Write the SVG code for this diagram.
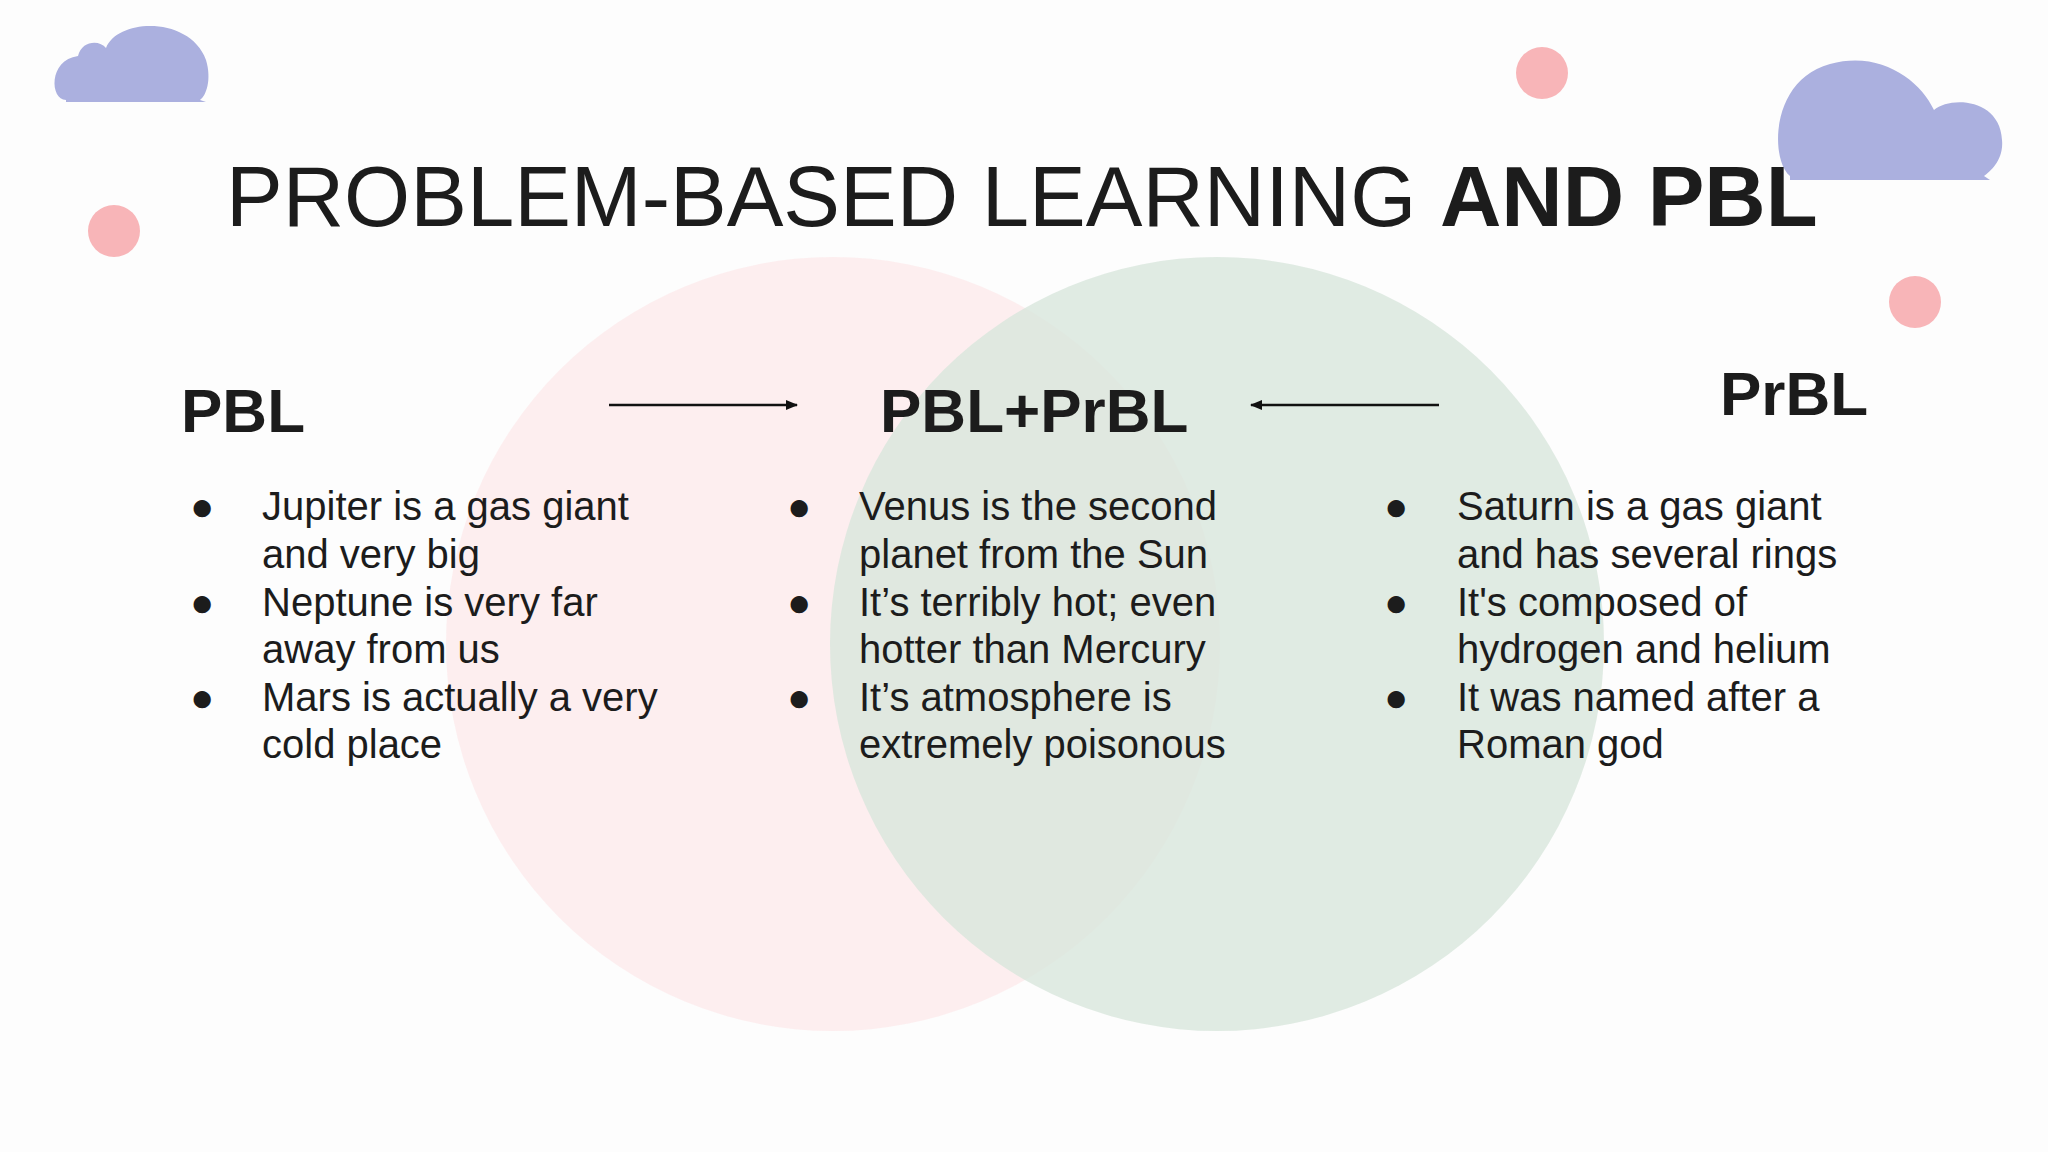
<svg xmlns="http://www.w3.org/2000/svg" width="2048" height="1152" viewBox="0 0 2048 1152">
<style>
.t{font-family:"Liberation Sans",Arial,sans-serif;fill:#1c1c1c}
.b{font-size:40px}
.h{font-size:62px;font-weight:bold}
.cl{fill:#abb0df}
.dot{fill:#f8b5b8}
</style>
<defs><marker id="ah" markerWidth="12" markerHeight="10" refX="11" refY="5" orient="auto" markerUnits="userSpaceOnUse"><path d="M0,0 L12,5 L0,10 Z" fill="#111"/></marker></defs>
<rect width="2048" height="1152" fill="#fdfdfd"/>
<g id="decor">
<path class="cl" d="M66,100 C50,100 48,60 78,56 C82,40 100,40 106,48 C118,18 190,16 206,60 C212,80 206,96 200,100 L206,102 L66,102 Z"/>
<path class="cl" d="M1790,176 C1770,160 1770,80 1830,64 C1880,50 1920,80 1934,110 C1950,96 2000,98 2002,140 C2004,160 1990,172 1984,176 L1990,180 L1790,180 Z"/>
<circle class="dot" cx="1542" cy="73" r="26"/>
<circle class="dot" cx="114" cy="231" r="26"/>
<circle class="dot" cx="1915" cy="302" r="26"/>
</g>
<g id="circles">
<circle cx="833" cy="644" r="387" fill="#fdeced" opacity="0.9"/>
<circle cx="1217" cy="644" r="387" fill="#d8e6dc" opacity="0.8"/>
</g>
<text class="t" x="226" y="226" font-size="85">PROBLEM-BASED LEARNING <tspan font-weight="bold">AND PBL</tspan></text>
<g id="connectors" stroke="#111" stroke-width="2.5">
<line x1="609" y1="405" x2="797" y2="405" marker-end="url(#ah)"/>
<line x1="1439" y1="405" x2="1251" y2="405" marker-end="url(#ah)"/>
</g>
<g id="pbl">
<text class="t h" x="181" y="432">PBL</text>
<g class="t b">
<text x="190" y="520">●</text><text x="262" y="520">Jupiter is a gas giant</text>
<text x="262" y="568">and very big</text>
<text x="190" y="616">●</text><text x="262" y="616">Neptune is very far</text>
<text x="262" y="663">away from us</text>
<text x="190" y="711">●</text><text x="262" y="711">Mars is actually a very</text>
<text x="262" y="758">cold place</text>
</g>
</g>
<g id="both">
<text class="t h" x="880" y="432">PBL+PrBL</text>
<g class="t b">
<text x="787" y="520">●</text><text x="859" y="520">Venus is the second</text>
<text x="859" y="568">planet from the Sun</text>
<text x="787" y="616">●</text><text x="859" y="616">It’s terribly hot; even</text>
<text x="859" y="663">hotter than Mercury</text>
<text x="787" y="711">●</text><text x="859" y="711">It’s atmosphere is</text>
<text x="859" y="758">extremely poisonous</text>
</g>
</g>
<g id="prbl">
<text class="t h" x="1720" y="415">PrBL</text>
<g class="t b">
<text x="1384" y="520">●</text><text x="1457" y="520">Saturn is a gas giant</text>
<text x="1457" y="568">and has several rings</text>
<text x="1384" y="616">●</text><text x="1457" y="616">It's composed of</text>
<text x="1457" y="663">hydrogen and helium</text>
<text x="1384" y="711">●</text><text x="1457" y="711">It was named after a</text>
<text x="1457" y="758">Roman god</text>
</g>
</g>
</svg>
